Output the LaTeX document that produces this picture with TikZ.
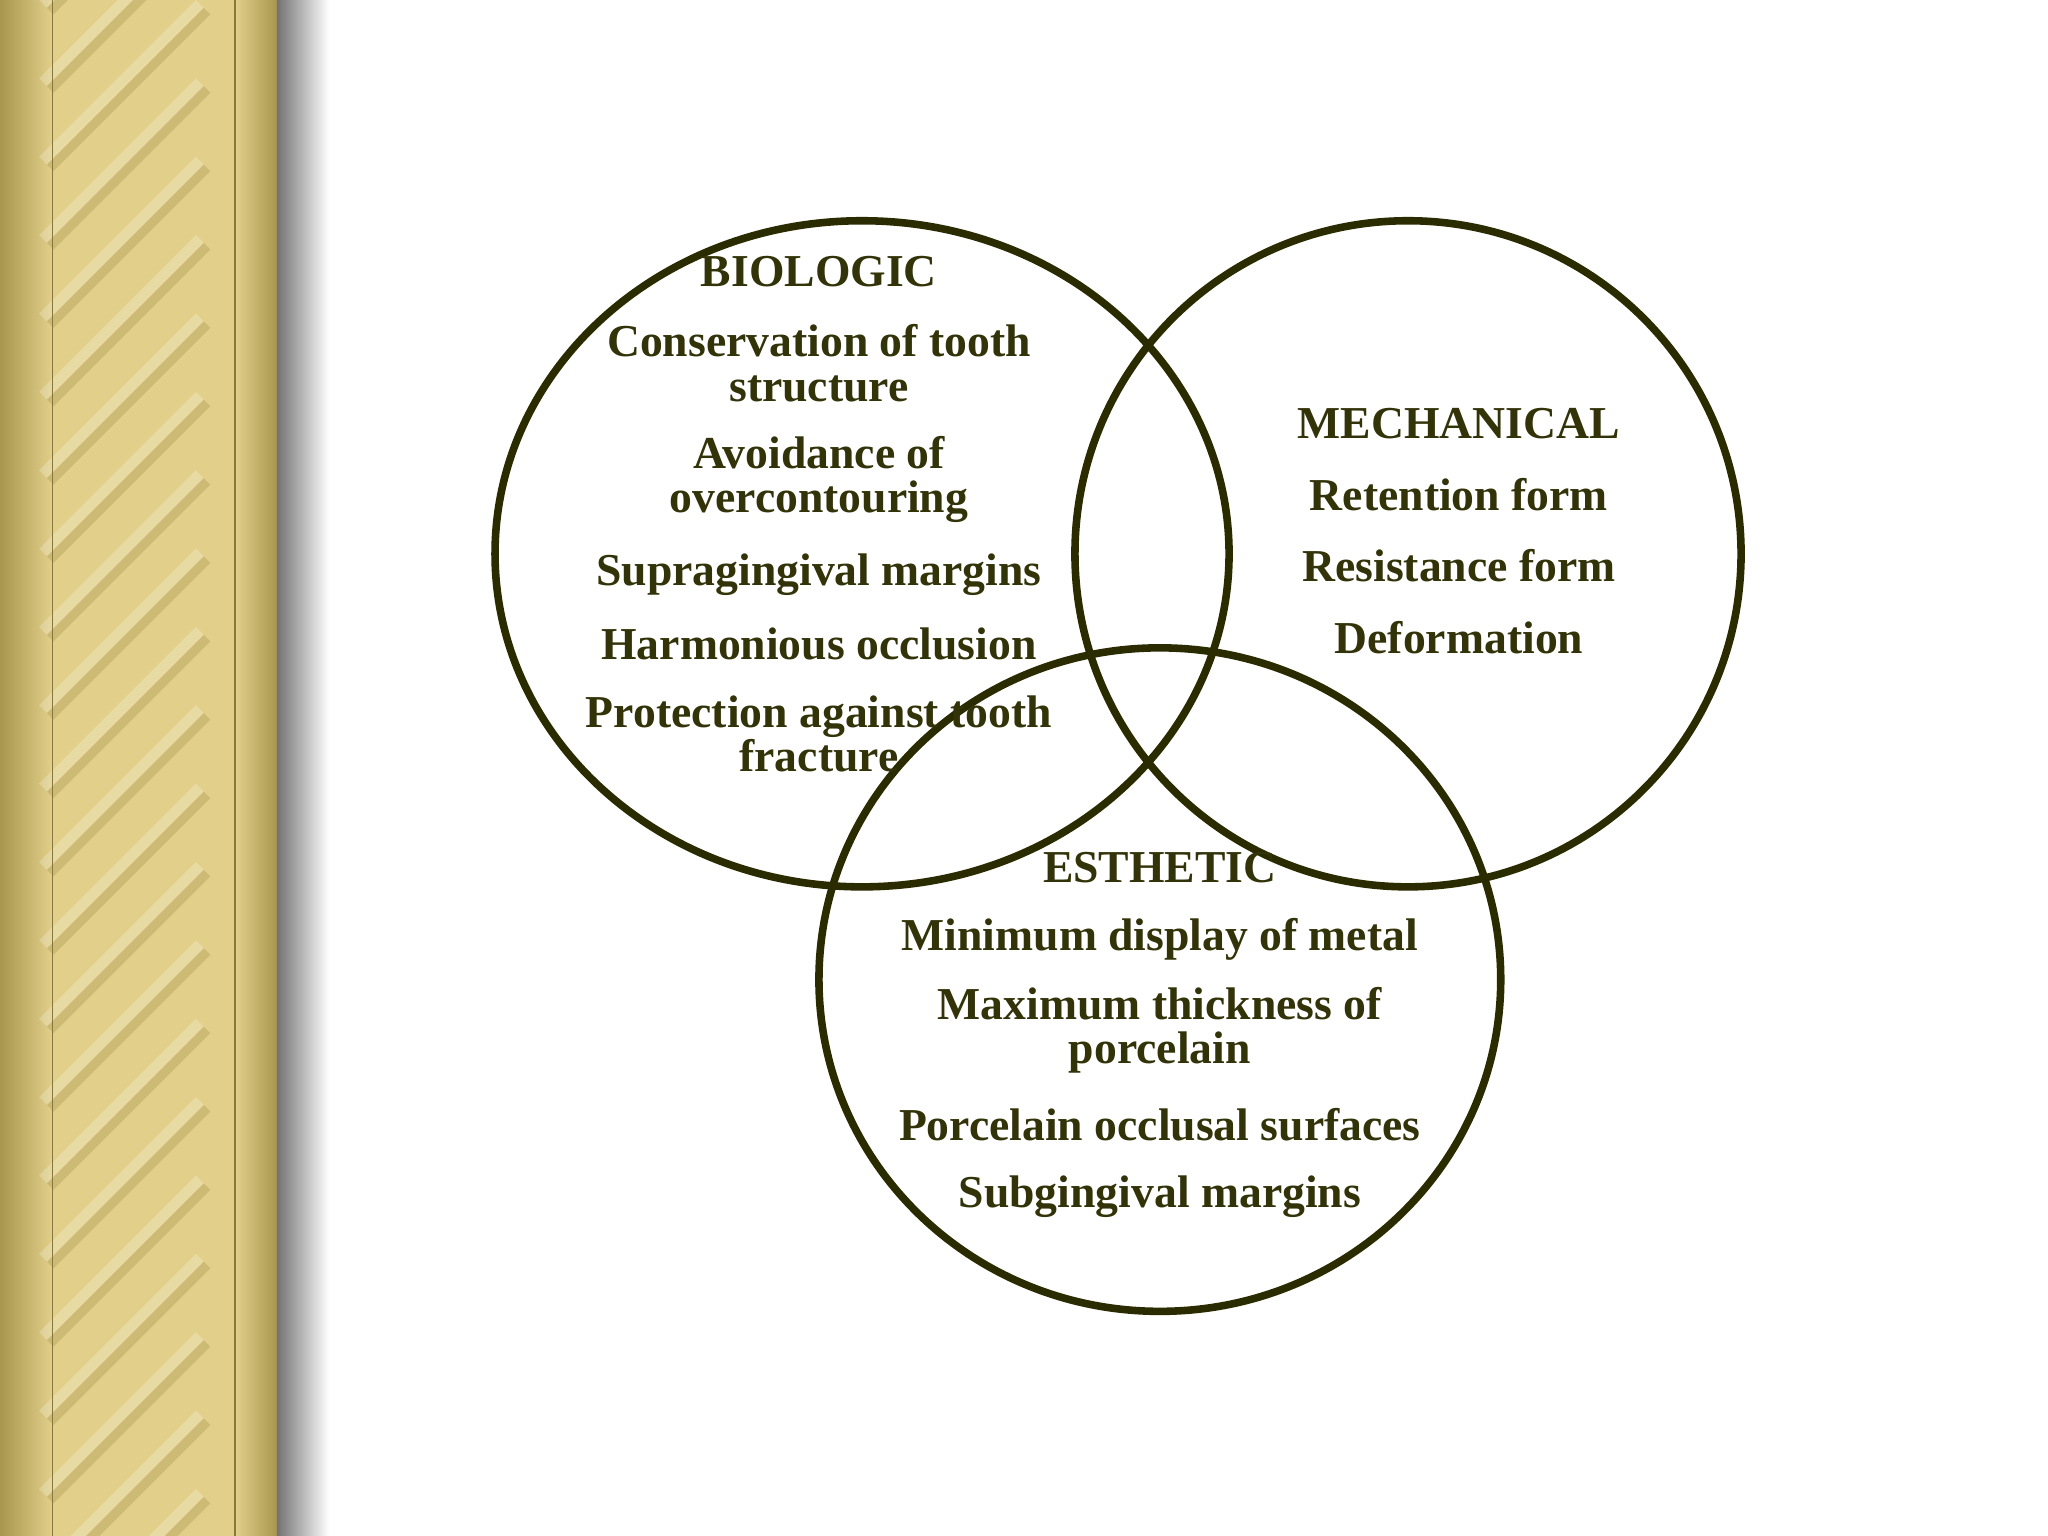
\documentclass[tikz,border=0pt]{standalone}
\usepackage{fontspec}
\setmainfont{Liberation Serif}
\definecolor{ol}{HTML}{2B2B00}
\definecolor{txt}{HTML}{33330A}
\definecolor{gold}{HTML}{E2D08A}
\definecolor{golddk}{HTML}{A8954E}
\begin{document}
\begin{tikzpicture}[x=0.02cm,y=-0.02cm,
  ring/.style={draw=ol,line width=3.3pt},
  lbl/.style={font=\fontsize{19.9}{19.3}\selectfont\bfseries,text=txt,align=center,inner sep=0pt}]
\useasboundingbox (0,0) rectangle (1568,1176);
\fill[white] (0,0) rectangle (1568,1176);
% gold column
\shade[left color=golddk,right color=gold] (0,0) rectangle (40,1176);
\fill[gold] (40,0) rectangle (180,1176);
\shade[left color=gold,right color=golddk] (180,0) rectangle (212,1176);
\begin{scope}
\clip (0,0) rectangle (212,1176);
\foreach \k in {-2,...,22}{
  \fill[white,opacity=0.22] (30,{\k*60+60}) -- (150,{\k*60-60}) -- (156,{\k*60-54}) -- (36,{\k*60+66}) -- cycle;
  \fill[golddk,opacity=0.35] (36,{\k*60+66}) -- (156,{\k*60-54}) -- (161,{\k*60-49}) -- (41,{\k*60+71}) -- cycle;
}
\end{scope}
\draw[golddk!80!black,line width=0.6pt] (40,0) -- (40,1176) (180,0) -- (180,1176);
\shade[left color=black!55,right color=white] (212,0) rectangle (252,1176);
% circles
\draw[ring] (660,424) ellipse [x radius=281,y radius=255];
\draw[ring] (1078,424) ellipse [x radius=255,y radius=255];
\draw[ring] (888,750) ellipse [x radius=261,y radius=254];
% biologic
\node[lbl] (b0) at (627,208) {BIOLOGIC};
\node[lbl] (b1) at (627,278) {Conservation of tooth\\structure};
\node[lbl] (b2) at (627,367) {Avoidance of\\overcontouring};
\node[lbl] (b3) at (627,440) {Supragingival margins};
\node[lbl] (b4) at (627,493) {Harmonious occlusion};
\node[lbl] (b5) at (627,562) {Protection against tooth\\fracture};
% mechanical
\node[lbl] (m0) at (1117,324) {MECHANICAL};
\node[lbl] (m1) at (1117,379) {Retention form};
\node[lbl] (m2) at (1117,433) {Resistance form};
\node[lbl] (m3) at (1117,488) {Deformation};
% esthetic
\node[lbl] (e0) at (888,664) {ESTHETIC};
\node[lbl] (e1) at (888,719) {Minimum display of metal};
\node[lbl] (e2) at (888,789) {Maximum thickness of\\porcelain};
\node[lbl] (e3) at (888,861) {Porcelain occlusal surfaces};
\node[lbl] (e4) at (888,916) {Subgingival margins};
\end{tikzpicture}
\end{document}
